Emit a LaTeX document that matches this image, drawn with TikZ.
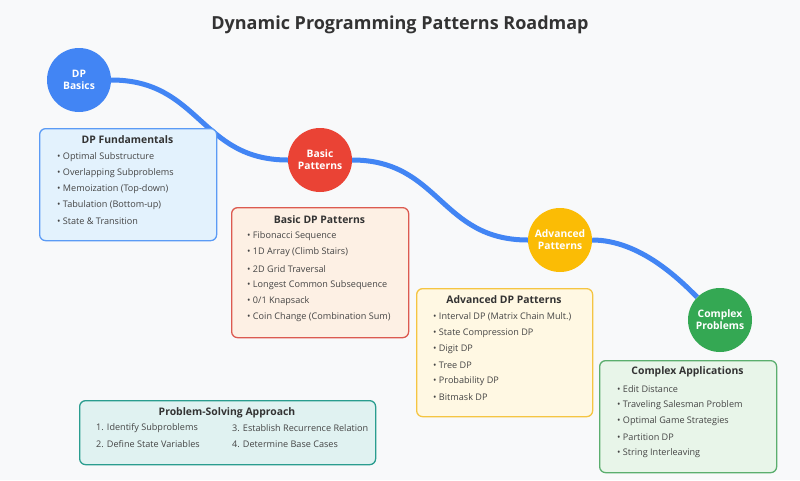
\documentclass[tikz,border=0pt]{standalone}
\usepackage{fontspec}
\setmainfont{Open Sans}
\usetikzlibrary{positioning}
\usetikzlibrary{backgrounds}
\definecolor{pagebg}{HTML}{F8F9FA}
\definecolor{inkdark}{HTML}{333333}
\definecolor{inkitem}{HTML}{444444}
\definecolor{gblue}{HTML}{4285F4}
\definecolor{gred}{HTML}{EA4335}
\definecolor{gyellow}{HTML}{FBBC05}
\definecolor{ggreen}{HTML}{34A853}
\definecolor{fundfill}{HTML}{E3F2FD}
\definecolor{funddraw}{HTML}{5B9BF5}
\definecolor{basicfill}{HTML}{FDF0E4}
\definecolor{basicdraw}{HTML}{DC5A50}
\definecolor{advfill}{HTML}{FFF8E3}
\definecolor{advdraw}{HTML}{F5C542}
\definecolor{cplxfill}{HTML}{E8F5E9}
\definecolor{cplxdraw}{HTML}{5BAE6E}
\definecolor{solvefill}{HTML}{E0F2F1}
\definecolor{solvedraw}{HTML}{2A9D8F}

\begin{document}
\begin{tikzpicture}[x=1pt,y=-1pt,line cap=round,line join=round,
  stage/.style={circle,minimum size=64pt,inner sep=0pt,text=white,align=center,
    font=\bfseries\fontsize{10.3}{12}\selectfont},
  card/.style={draw,rounded corners=6pt,line width=1.3pt,anchor=north west,inner sep=0pt},
  cardtitle/.style={text=inkdark,inner sep=0pt,font=\bfseries\fontsize{10.4}{12}\selectfont},
  item/.style={anchor=west,text=inkitem,inner sep=0pt,font=\fontsize{9.1}{10}\selectfont},
  road/.style={draw=gblue,line width=5pt,line cap=butt}]
\useasboundingbox (0,0) rectangle (800,480);
\node[text=inkdark,font=\bfseries\fontsize{18}{22}\selectfont] (title) at (400,25) {Dynamic Programming Patterns Roadmap};

% stages of the roadmap
\node[stage,fill=gblue] (basics) at (79,80) {DP\\Basics};
\node[stage,fill=gred] (basic) at (320,160) {Basic\\Patterns};
\node[stage,fill=gyellow] (adv) at (560,240) {Advanced\\Patterns};
\node[stage,fill=ggreen] (cplx) at (720,320) {Complex\\Problems};

% cards
\node[card,draw=funddraw,fill=fundfill,minimum width=177pt,minimum height=112pt] (fundbox) at (39,128) {};
\node[cardtitle] (fundtitle) at (127.5,140) {DP Fundamentals};
\foreach \t [count=\i] in {Optimal Substructure,Overlapping Subproblems,Memoization (Top-down),Tabulation (Bottom-up),State \& Transition}
  \node[item] (fund\i) at (57,141+16*\i) {\textbullet\ \t};

\node[card,draw=basicdraw,fill=basicfill,minimum width=177pt,minimum height=130pt] (basicbox) at (231,207) {};
\node[cardtitle] (basictitle) at (319.5,220) {Basic DP Patterns};
\foreach \t [count=\i] in {Fibonacci Sequence,1D Array (Climb Stairs),2D Grid Traversal,Longest Common Subsequence,{0/1 Knapsack},Coin Change (Combination Sum)}
  \node[item] (basic\i) at (247,220+16.2*\i) {\textbullet\ \t};

\node[card,draw=advdraw,fill=advfill,minimum width=176pt,minimum height=128pt] (advbox) at (416,288) {};
\node[cardtitle] (advtitle) at (504,300) {Advanced DP Patterns};
\foreach \t [count=\i] in {Interval DP (Matrix Chain Mult.),State Compression DP,Digit DP,Tree DP,Probability DP,Bitmask DP}
  \node[item] (adv\i) at (433,301+16*\i) {\textbullet\ \t};

\node[card,draw=cplxdraw,fill=cplxfill,minimum width=177pt,minimum height=112pt] (cplxbox) at (599,360) {};
\node[cardtitle] (cplxtitle) at (687.5,372) {Complex Applications};
\foreach \t [count=\i] in {Edit Distance,Traveling Salesman Problem,Optimal Game Strategies,Partition DP,String Interleaving}
  \node[item] (cplx\i) at (617,373+16*\i) {\textbullet\ \t};

\node[card,draw=solvedraw,fill=solvefill,minimum width=296pt,minimum height=64pt] (solvebox) at (79,400) {};
\node[cardtitle] (solvetitle) at (227,413) {Problem-Solving Approach};
\node[item] (step1) at (96,428) {1. Identify Subproblems};
\node[item] (step2) at (96,444) {2. Define State Variables};
\node[item] (step3) at (232,428) {3. Establish Recurrence Relation};
\node[item] (step4) at (232,444) {4. Determine Base Cases};

% the road, behind everything
\begin{scope}[on background layer]
\fill[pagebg] (0,0) rectangle (800,480);
\draw[road] (basics) .. controls (200,80) and (200,160) .. (basic);
\draw[road] (basic) .. controls (440,160) and (440,240) .. (adv);
\draw[road] (adv) .. controls (640,240) and (680,280) .. (cplx);
\end{scope}
\end{tikzpicture}
\end{document}
